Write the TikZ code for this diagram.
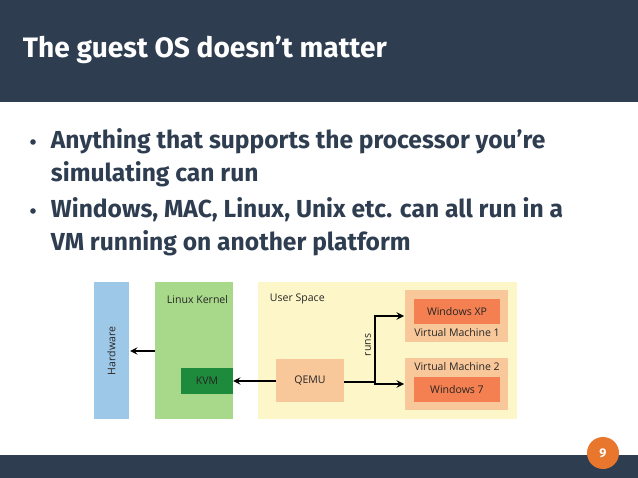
\documentclass[tikz,border=0pt]{standalone}
\usepackage{fontspec}
\setmainfont{Fira Sans}
\newfontfamily\diagfont{Open Sans}
\usetikzlibrary{arrows,positioning}
\definecolor{slate}{HTML}{2E3D50}
\definecolor{badge}{HTML}{E8762C}
\definecolor{hwblue}{HTML}{9DC8E8}
\definecolor{kgreen}{HTML}{A8D88A}
\definecolor{kvmgreen}{HTML}{1E8A3C}
\definecolor{userbg}{HTML}{FDF6C8}
\definecolor{peach}{HTML}{F9C89A}
\definecolor{coral}{HTML}{F47F50}
\tikzset{
  box/.style = {draw=none, anchor=north west, inner sep=0pt},
  lbl/.style = {font=\diagfont\fontsize{7.5}{8}\selectfont, text=black!85},
  link/.style = {line width=1.3pt, -stealth}
}
\begin{document}
\begin{tikzpicture}[x=0.025cm, y=-0.025cm]
\useasboundingbox (0,0) rectangle (638,478);
% slide frame
\fill[slate] (0,0) rectangle (638,102);
\fill[slate] (0,455) rectangle (638,478);
\node[anchor=west, text=white, font=\bfseries\fontsize{20}{24}\selectfont] (title) at (18,50) {The guest OS doesn’t matter};
\fill[badge] (603,453) circle (16);
\node[text=white, font=\bfseries\small] (page) at (603,453) {9};
% bullets
\begin{scope}[every node/.style={anchor=north west, text=slate, font=\bfseries\fontsize{17.5}{23}\selectfont, align=left}]
\node (b1) at (46,124) {Anything that supports the processor you’re\\simulating can run};
\node (b2) at (46,193) {Windows, MAC, Linux, Unix etc. can all run in a\\VM running on another platform};
\end{scope}
\fill[slate] (33,142) circle (2.8);
\fill[slate] (33,211) circle (2.8);
% diagram
\fill[hwblue] (94,282) rectangle (129,419);
\node[lbl, rotate=90] (hw) at (111.5,351) {Hardware};
\fill[kgreen] (155,282) rectangle (233,419);
\node[lbl, anchor=west] (kern) at (162,300) {Linux Kernel};
\fill[kvmgreen] (181,368) rectangle (233,394);
\node[lbl] (kvm) at (207,381) {KVM};
\fill[userbg] (258,282) rectangle (517,419);
\node[lbl, anchor=west] (user) at (265,299) {User Space};
\fill[peach] (276,359) rectangle (344,402);
\node[lbl] (qemu) at (310,381) {QEMU};
\fill[peach] (405,290) rectangle (508,342);
\fill[coral] (414,299) rectangle (500,324);
\node[lbl] (xp) at (457,311.5) {Windows XP};
\node[lbl] (vm1) at (457,333) {Virtual Machine 1};
\fill[peach] (405,358) rectangle (508,410);
\fill[coral] (414,377) rectangle (500,402);
\node[lbl] (vm2) at (457,367) {Virtual Machine 2};
\node[lbl] (w7) at (457,389.5) {Windows 7};
% connectors
\coordinate (kout) at (155,351);
\coordinate (hin) at (130,351);
\coordinate (fork) at (375,382);
\draw[link] (kout) -- (hin);
\draw[link] (qemu.west -| 276,381) -- (233,381);
\draw[line width=1.3pt] (344,382) -- (fork);
\draw[link] (fork) -- (375,316) -- (404,316);
\draw[link] (fork) -- (375,384) -- (404,384);
\node[lbl, rotate=90] (runs) at (368,345) {runs};
\end{tikzpicture}
\end{document}
